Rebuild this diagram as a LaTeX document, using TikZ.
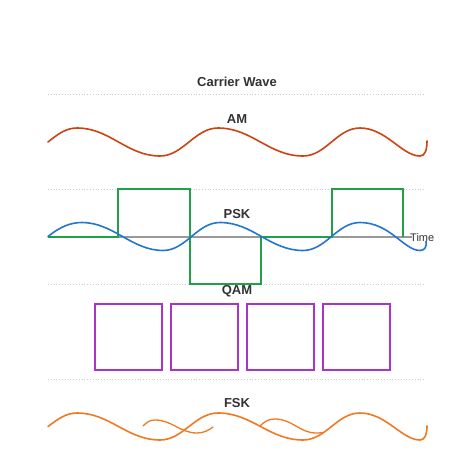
\documentclass[tikz,border=0pt]{standalone}
\usepackage{fontspec}
\setmainfont{Liberation Sans}
\definecolor{textgray}{HTML}{333333}
\definecolor{sepgray}{HTML}{CCCCCC}
\definecolor{amred}{HTML}{CC4411}
\definecolor{pskblue}{HTML}{2277CC}
\definecolor{pskgreen}{HTML}{22A047}
\definecolor{qampurple}{HTML}{AA33CC}
\definecolor{fskorange}{HTML}{F07A22}
\definecolor{axisgray}{HTML}{999999}
\begin{document}
\begin{tikzpicture}[x=1pt,y=-1pt,
  title/.style={font=\fontsize{13}{15}\selectfont\bfseries, text=textgray, anchor=base, inner sep=0pt},
  small/.style={font=\fontsize{11}{13}\selectfont, text=textgray, anchor=base west, inner sep=0pt},
  sep/.style={draw=sepgray, dotted, line width=0.8pt},
  wave/.style={line width=1.6pt, line cap=round, line join=round},
  qambox/.style={draw=qampurple, line width=2pt, minimum width=67pt, minimum height=66pt, anchor=north west, inner sep=0pt}]
\useasboundingbox[fill=white] (0,0) rectangle (474,474);

% separators
\foreach \yy/\nm in {94.5/s1,189.5/s2,284.5/s3,379.5/s4}{
  \coordinate (\nm a) at (48,\yy);
  \coordinate (\nm b) at (424,\yy);
  \draw[sep] (\nm a) -- (\nm b);
}

% titles
\node[title] (tcarrier) at (237,86) {Carrier Wave};
\node[title] (tam) at (237,123.3) {AM};
\node[title] (tpsk) at (237,218.3) {PSK};
\node[title] (tqam) at (237,294.5) {QAM};
\node[title] (tfsk) at (237,407.3) {FSK};

% AM wave
\draw[wave, amred] (48,142) .. controls (58,134) and (66,128) .. (77,128)
  .. controls (110,128) and (127,156) .. (160,156)
  .. controls (183,156) and (195,128) .. (218,128)
  .. controls (252,128) and (269,156) .. (303,156)
  .. controls (326,156) and (337,128) .. (360,128)
  .. controls (386,128) and (402,156) .. (420,156)
  .. controls (425,156) and (427,150) .. (427,141);

% PSK
\coordinate (ax0) at (48,237);
\coordinate (ax1) at (412,237);
\draw[axisgray, line width=2pt] (ax0) -- (ax1);
\node[small] (ttime) at (410,241.7) {Time};
\draw[pskgreen, line width=2pt] (48,237) -- (118,237) -- (118,189) -- (190,189) -- (190,284)
  -- (261,284) -- (261,237) -- (332,237) -- (332,189) -- (403,189) -- (403,237);
\draw[wave, pskblue] (48,236.5) .. controls (60,227) and (70,222.5) .. (82,222.5)
  .. controls (113,222.5) and (132,250.5) .. (163,250.5)
  .. controls (186,250.5) and (197,222.5) .. (220,222.5)
  .. controls (253,222.5) and (270,250.5) .. (303,250.5)
  .. controls (326,250.5) and (337,222.5) .. (360,222.5)
  .. controls (390,222.5) and (404,250.5) .. (420,250.5)
  .. controls (425,250.5) and (427,246) .. (426,241.5);

% QAM
\node[qambox] (q1) at (94,303) {};
\node[qambox] (q2) at (170,303) {};
\node[qambox] (q3) at (246,303) {};
\node[qambox] (q4) at (322,303) {};

% FSK
\draw[wave, fskorange] (48,426.5) .. controls (58,419) and (66,413) .. (77,413)
  .. controls (110,413) and (127,440) .. (160,440)
  .. controls (183,440) and (195,413) .. (218,413)
  .. controls (252,413) and (269,440) .. (303,440)
  .. controls (326,440) and (337,413) .. (360,413)
  .. controls (386,413) and (402,440) .. (420,440)
  .. controls (425,440) and (427,434) .. (427,426);
\draw[wave, fskorange, line width=1.3pt] (143,426) .. controls (147,422) and (150,420) .. (155,420)
  .. controls (172,420) and (180,433) .. (197,433)
  .. controls (204,433) and (209,430) .. (213,427);
\draw[wave, fskorange, line width=1.3pt] (260,426) .. controls (265,421) and (269,419) .. (275,419)
  .. controls (292,419) and (300,433) .. (316,433)
  .. controls (318,433) and (320,433) .. (322,432.5);
\end{tikzpicture}
\end{document}
